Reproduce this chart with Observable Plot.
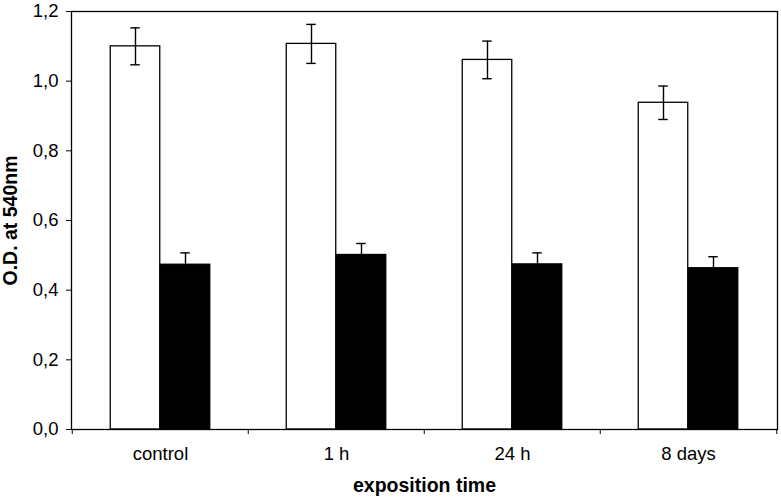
<!DOCTYPE html>
<html>
<head>
<meta charset="utf-8">
<script src="https://cdn.jsdelivr.net/npm/d3@7"></script>
<script src="https://cdn.jsdelivr.net/npm/@observablehq/plot@0.6"></script>
<style>
  html, body { margin: 0; padding: 0; background: #fff; }
  #chart { width: 781px; height: 503px; }
</style>
</head>
<body>
<div id="chart"></div>
<script>
const categories = ["control", "1 h", "24 h", "8 days"];
const whiteValues = [1.100, 1.107, 1.061, 0.938];
const whiteErrors = [0.053, 0.056, 0.054, 0.048];
const blackValues = [0.473, 0.501, 0.474, 0.463];
const blackErrors = [0.034, 0.033, 0.033, 0.033];
const yTicks = [0, 0.2, 0.4, 0.6, 0.8, 1.0, 1.2];
const xTitle = "exposition time";
const yTitle = "O.D. at 540nm";

const whiteRows = categories.map((c, i) => ({cat: c, value: whiteValues[i], err: whiteErrors[i]}));
const blackRows = categories.map((c, i) => ({cat: c, value: blackValues[i], err: blackErrors[i]}));

const W = 781, H = 503;
const mL = 71, mR = 4, mT = 11, mB = 74;
const bw = (W - mL - mR) / categories.length; // band width
const barW = 50, capW = 10;
const half = bw / 2;

const fmt = d => d.toFixed(1).replace(".", ",");
const tickFont = 18.5;

const chart = Plot.plot({
  width: W,
  height: H,
  marginLeft: mL,
  marginRight: mR,
  marginTop: mT,
  marginBottom: mB,
  style: {fontFamily: "'Liberation Sans', Arial, sans-serif", fontSize: "18px", color: "#000", background: "#fff", overflow: "visible"},
  x: {domain: categories, padding: 0, axis: null},
  y: {domain: [0, 1.2], axis: null},
  marks: [
    // bars
    Plot.barY(whiteRows, {x: "cat", y: "value", fill: "white", stroke: "#000", strokeWidth: 1.3,
      insetLeft: half - barW, insetRight: half}),
    Plot.barY(blackRows, {x: "cat", y: "value", fill: "#000", stroke: "#000", strokeWidth: 1.3,
      insetLeft: half, insetRight: half - barW}),
    // error bars
    Plot.ruleX(whiteRows, {x: "cat", y1: d => d.value - d.err, y2: d => d.value + d.err, dx: -barW / 2, stroke: "#000", strokeWidth: 1.4}),
    Plot.tickY(whiteRows, {x: "cat", y: d => d.value + d.err, insetLeft: half - barW / 2 - capW / 2, insetRight: half + barW / 2 - capW / 2, stroke: "#000", strokeWidth: 1.4}),
    Plot.tickY(whiteRows, {x: "cat", y: d => d.value - d.err, insetLeft: half - barW / 2 - capW / 2, insetRight: half + barW / 2 - capW / 2, stroke: "#000", strokeWidth: 1.4}),
    Plot.ruleX(blackRows, {x: "cat", y1: d => d.value - d.err, y2: d => d.value + d.err, dx: barW / 2, stroke: "#000", strokeWidth: 1.4}),
    Plot.tickY(blackRows, {x: "cat", y: d => d.value + d.err, insetLeft: half + barW / 2 - capW / 2, insetRight: half - barW / 2 - capW / 2, stroke: "#000", strokeWidth: 1.4}),
    // frame
    Plot.frame({stroke: "#000", strokeWidth: 1.3}),
    // y axis
    Plot.axisY({ticks: yTicks, tickFormat: fmt, tickSize: 5, tickPadding: 8, label: null, stroke: "#000", fontSize: tickFont}),
    // x boundary ticks
    Plot.axisX({ticks: categories, tickSize: 5, tickFormat: () => "", dx: -half, label: null, stroke: "#000"}),
    Plot.axisX({ticks: categories.slice(-1), tickSize: 5, tickFormat: () => "", dx: half, label: null, stroke: "#000"}),
    // x category labels
    Plot.axisX({ticks: categories, tickSize: 0, tickPadding: 17, label: null, fontSize: tickFont}),
    // titles
    Plot.text([xTitle], {text: d => d, frameAnchor: "bottom", dy: 62, fontWeight: "bold", fontSize: 19.5, fill: "#000"}),
    Plot.text([yTitle], {text: d => d, frameAnchor: "left", textAnchor: "middle", dx: -61, rotate: -90, fontWeight: "bold", fontSize: 19.5, fill: "#000"})
  ]
});
document.getElementById("chart").appendChild(chart);
</script>
</body>
</html>
